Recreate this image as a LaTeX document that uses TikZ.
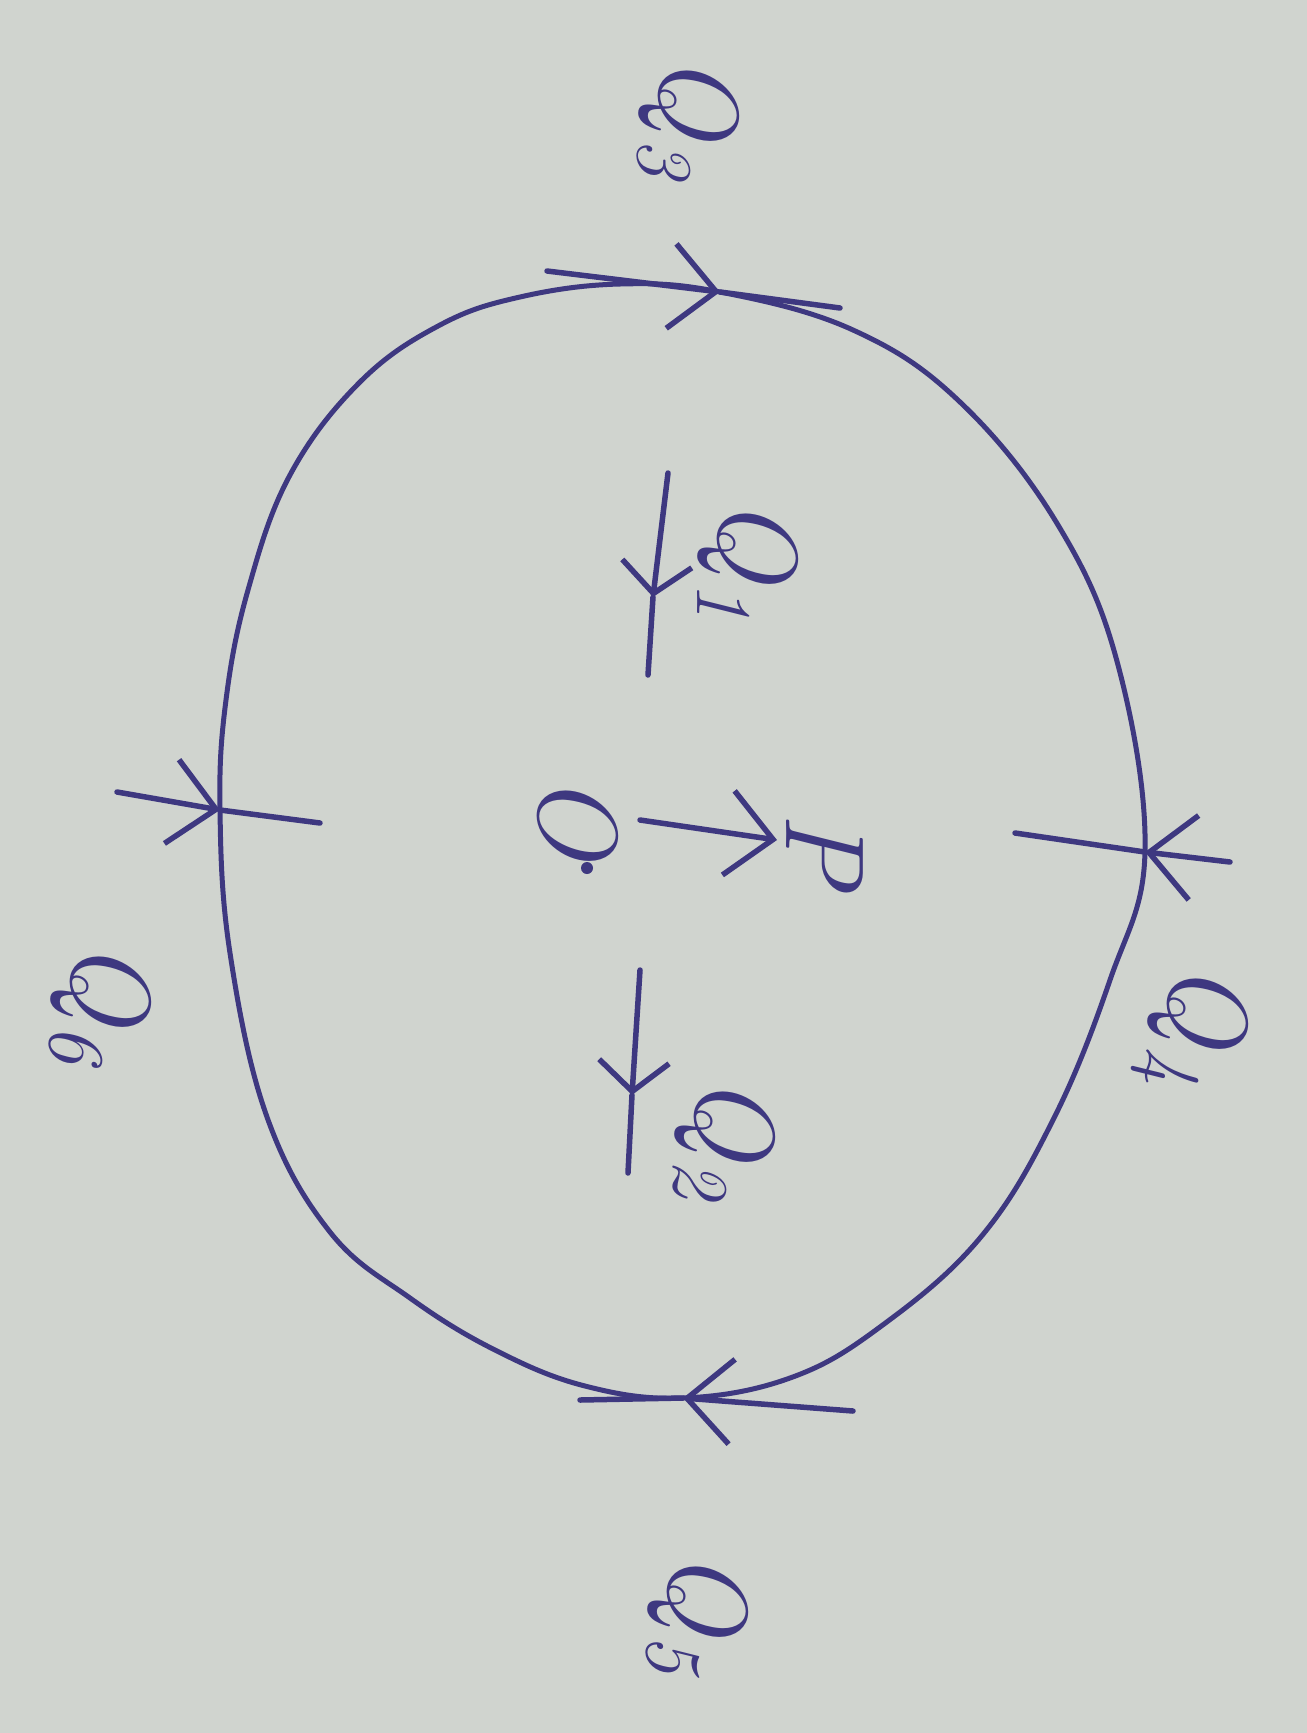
\documentclass[tikz,border=0pt]{standalone}
\usetikzlibrary{arrows.meta}
\definecolor{ink}{RGB}{62,56,128}
\definecolor{paper}{RGB}{208,212,207}
\tikzset{
  lbl/.style={rotate=-90, inner sep=0pt, text=ink, font=\fontsize{32}{36}\selectfont\itshape},
  bigtip/.style={-{Straight Barb[length=4.5mm, width=8.5mm]}},
  smalltip/.style={-{Straight Barb[length=3mm, width=7mm]}}
}
\begin{document}
\begin{tikzpicture}[x=0.1mm, y=-0.1mm, line join=round, line cap=round, draw=ink, line width=0.55mm]
  \fill[paper] (0,0) rectangle (1307,1733);

  % points on the loop and the ends of the short lines through them
  \path
  (720,292) coordinate (Q3)  (547,271) coordinate (Q3-a)  (840,308) coordinate (Q3-b)
  (1145,852) coordinate (Q4) (1230,862) coordinate (Q4-a) (1015,833) coordinate (Q4-b)
  (683,1398) coordinate (Q5) (853,1411) coordinate (Q5-a) (580,1400) coordinate (Q5-b)
  (220,810) coordinate (Q6)  (117,792) coordinate (Q6-a)  (320,823) coordinate (Q6-b)
  (578,817) coordinate (O)   (587,868) coordinate (Odot)
  (640,820) coordinate (OP-a) (777,840) coordinate (OP-t);

  % the loop
  \draw[line width=0.5mm] plot[smooth cycle, tension=0.65] coordinates {
    (Q6) (226,700) (248,590) (290,475) (360,382) (440,325) (520,297) (620,284)
    (Q3) (853,330) (960,402) (1058,525) (1118,665)
    (Q4) (1110,980) (1053,1120) (980,1238) (880,1327) (790,1378)
    (Q5) (585,1386) (495,1350) (410,1298) (330,1232) (267,1117) (230,953)};

  \foreach \q in {Q3,Q4,Q5,Q6}{
    \draw[bigtip] (\q-a) -- (\q);
    \draw (\q) -- (\q-b);
  }

  % arrows inside
  \draw[smalltip] (668,473) coordinate (A1) -- (653,597) coordinate (T1);
  \draw (T1) -- (648,675);
  \draw[smalltip] (640,970) coordinate (A2) -- (632,1095) coordinate (T2);
  \draw (T2) -- (628,1173);
  \draw[bigtip] (OP-a) -- (OP-t);
  \fill[ink] (Odot) circle (6);

  \node[lbl] (lO) at (O) {O};
  \node[lbl] (lP) at (825,850) {P};
  \foreach \i/\x/\y in {1/748/560, 2/724/1138, 3/688/117, 4/1190/1025, 5/697/1613, 6/100/1003}
  \node[lbl] (lQ\i) at (\x,\y) {Q\textsubscript{\i}};
\end{tikzpicture}
\end{document}
